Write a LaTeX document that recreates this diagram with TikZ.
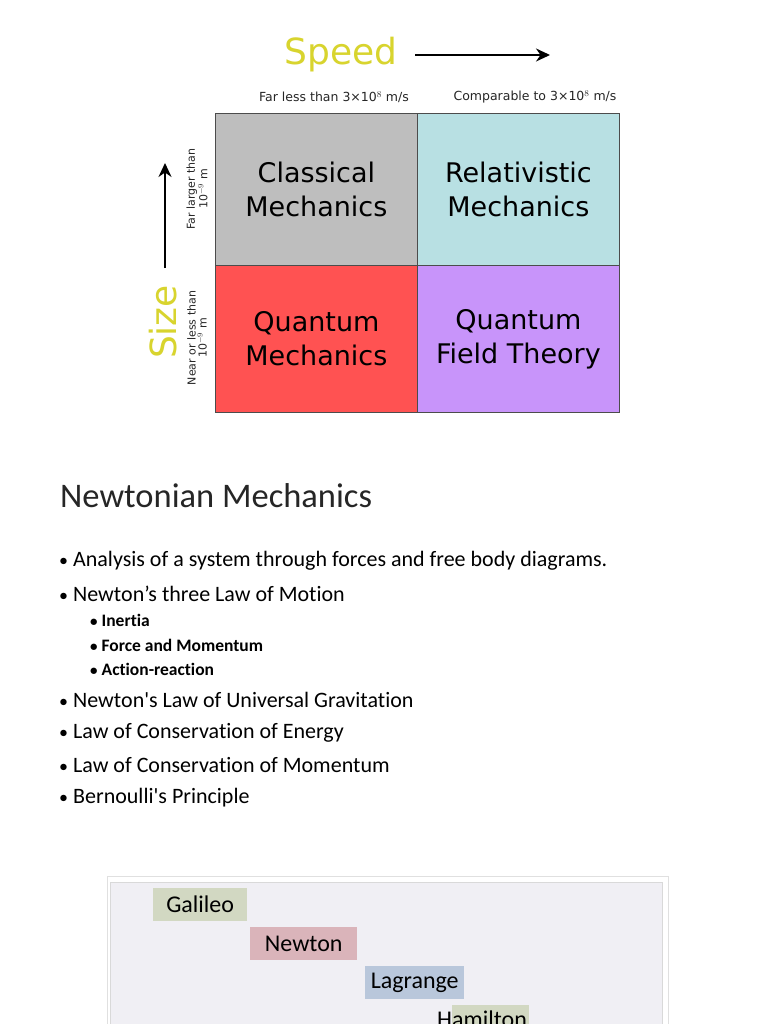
\documentclass[tikz,border=0pt]{standalone}
\usetikzlibrary{arrows.meta}
\usepackage{fontspec}
\setmainfont[Ligatures=NoCommon]{Carlito}
\newfontfamily\dv{DejaVu Sans}
\newfontfamily\carnomap[Ligatures=NoCommon,Mapping=]{Carlito}
\definecolor{yel}{HTML}{D8D42E}
\definecolor{cgray}{HTML}{BEBEBE}
\definecolor{ccyan}{HTML}{B8E0E3}
\definecolor{cred}{HTML}{FF5252}
\definecolor{cpur}{HTML}{C894FA}
\definecolor{bgbox}{HTML}{F0EFF4}
\definecolor{cgreen}{HTML}{D2D8C2}
\definecolor{cpink}{HTML}{DAB4BA}
\definecolor{cblue}{HTML}{B9C7DB}
\newcommand{\sq}{\textquotesingle}
\begin{document}
\begin{tikzpicture}[x=1pt,y=-1pt,
  cell/.style={draw=black!70,line width=0.8pt,minimum width=202pt,anchor=north west,inner sep=0pt,font=\dv\fontsize{27}{34}\selectfont,align=center},
  sub/.style={font=\dv\fontsize{12.5}{14}\selectfont,text=black!85},
  bul/.style={anchor=west,font=\fontsize{22}{26}\selectfont,inner sep=0pt},
  bul2/.style={anchor=west,font=\bfseries\fontsize{17.5}{20}\selectfont,inner sep=0pt},
  who/.style={anchor=north west,minimum height=33pt,inner sep=0pt,font=\fontsize{24}{28}\selectfont}]
\useasboundingbox (0,0) rectangle (768,1024);
\fill[white] (0,0) rectangle (768,1024);
% grid
\node[cell,fill=cgray,minimum height=152pt] (cm) at (215,113) {Classical\\Mechanics};
\node[cell,fill=ccyan,minimum height=152pt] (rm) at (417,113) {Relativistic\\Mechanics};
\node[cell,fill=cred,minimum height=147pt] (qm) at (215,265) {Quantum\\Mechanics};
\node[cell,fill=cpur,minimum height=147pt] (qf) at (417,265) {Quantum\\Field Theory};
\node[font=\dv\fontsize{36}{40}\selectfont,text=yel,draw=none] (speed) at (341,55) {Speed};
\coordinate (sa) at (415,55); \coordinate (sb) at (550,55);
\draw[line width=2pt,-{Stealth[length=14pt,width=13pt]}] (sa) -- (sb);
\node[sub] (s1) at (334,97) {Far less than 3{\texttimes}10$^8$ m/s};
\node[sub] (s2) at (535,97) {Comparable to 3{\texttimes}10$^8$ m/s};
\node[font=\dv\fontsize{36}{40}\selectfont,text=yel,rotate=90] (size) at (163,322) {Size};
\coordinate (za) at (165,268); \coordinate (zb) at (165,163);
\draw[line width=2pt,-{Stealth[length=14pt,width=13pt]}] (za) -- (zb);
\node[sub,rotate=90,align=center,font=\dv\fontsize{11}{11}\selectfont] (l1) at (197,189) {Far larger than\\10$^{-9}$ m};
\node[sub,rotate=90,align=center,font=\dv\fontsize{11}{11}\selectfont] (l2) at (197,338) {Near or less than\\10$^{-9}$ m};
% text
\node[anchor=west,font=\fontsize{34.5}{38}\selectfont,inner sep=0pt,text=black!85] (h) at (60,496) {Newtonian Mechanics};
\foreach \y/\t in {561/Analysis of a system through forces and free body diagrams.,594/Newton’s three Law of Motion,700/Newton{\carnomap'}s Law of Universal Gravitation,733/Law of Conservation of Energy,765/Law of Conservation of Momentum,798/Bernoulli{\carnomap'}s Principle}
  {\node[bul] at (59,\y) {{\fontsize{18}{20}\selectfont\textbullet}\hspace{5pt}\t};}
\foreach \y/\t in {620/Inertia,645/Force and Momentum,669/Action-reaction}
  {\node[bul2] at (90,\y) {{\fontsize{15}{18}\selectfont\textbullet}\hspace{4pt}\t};}
% bottom box
\draw[black!12,line width=1pt] (107,1024) -- (107,876) -- (668,876) -- (668,1024);
\fill[bgbox] (110,882) rectangle (662,1024);
\draw[black!15] (110,1024) -- (110,882) -- (662,882) -- (662,1024);
\begin{scope}
\clip (0,0) rectangle (768,1024);
\node[who,fill=cgreen,minimum width=94pt] (g) at (153,888) {Galileo};
\node[who,fill=cpink,minimum width=107pt] (n) at (250,927) {Newton};
\node[who,fill=cblue,minimum width=99pt] (l) at (365,966) {Lagrange};
\node[who,fill=cgreen,minimum width=77pt] (hm) at (452,1005) {};
\node[anchor=north west,inner sep=0pt,font=\fontsize{24}{28}\selectfont] (ht) at (437,1011) {Hamilton};
\end{scope}
\end{tikzpicture}
\end{document}
